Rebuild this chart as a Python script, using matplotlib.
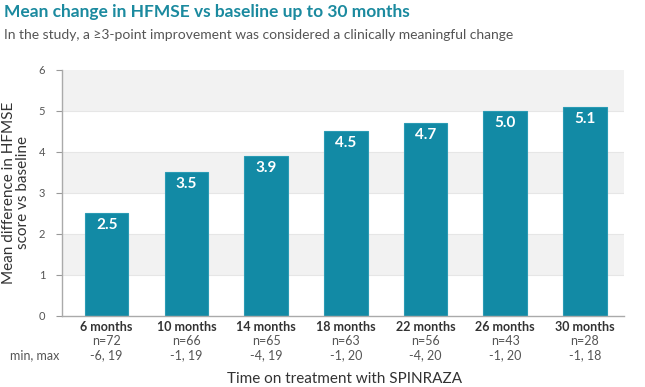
import matplotlib
matplotlib.use("Agg")
import matplotlib.pyplot as plt
import matplotlib.transforms as mtransforms
import numpy as np

months = ["6 months", "10 months", "14 months", "18 months", "22 months", "26 months", "30 months"]
mean_change = [2.5, 3.5, 3.9, 4.5, 4.7, 5.0, 5.1]
value_labels = ["2.5", "3.5", "3.9", "4.5", "4.7", "5.0", "5.1"]
n_patients = [72, 66, 65, 63, 56, 43, 28]
min_max = ["-6, 19", "-1, 19", "-4, 19", "-1, 20", "-4, 20", "-1, 20", "-1, 18"]

plt.rcParams["font.family"] = ["Lato", "DejaVu Sans"]

TEAL = "#128aa5"
TITLE = "#1b8a9f"
GRAY_TXT = "#555555"
DARK = "#333333"

fig = plt.figure(figsize=(6.45, 3.87), dpi=100)
ax = fig.add_axes([62 / 645, 1 - 315.5 / 387, (624 - 62) / 645, (315.5 - 70) / 387])

# alternating background bands
for lo in (1, 3, 5):
    ax.axhspan(lo, lo + 1, color="#f2f2f2", lw=0, zorder=0)
for yv in range(1, 6):
    ax.axhline(yv, color="#e6e6e6", lw=0.8, zorder=0.5)

x = np.arange(len(months))
bars = ax.bar(x, mean_change, width=0.545, color=TEAL, edgecolor="#2a9bb4", lw=0.8, zorder=2)
for xi, v, lab in zip(x, mean_change, value_labels):
    ax.text(xi, v - 0.12, lab, ha="center", va="top", color="white",
            fontsize=11, fontweight="bold", zorder=3)

ax.set_xlim(-0.56, 6.49)
ax.set_ylim(0, 6)
ax.set_yticks(range(0, 7))
ax.tick_params(axis="y", labelsize=8, colors="#999999", labelcolor=GRAY_TXT, length=4, width=0.8, pad=8)
ax.set_xticks([])
for side in ("top", "right"):
    ax.spines[side].set_visible(False)
for side in ("left", "bottom"):
    ax.spines[side].set_color("#aaaaaa")
    ax.spines[side].set_linewidth(1)

ax.set_ylabel("Mean difference in HFMSE\nscore vs baseline", fontsize=11, color=DARK,
              linespacing=1.0, labelpad=6)

trans = mtransforms.blended_transform_factory(ax.transData, fig.transFigure)
for xi, m, n, mm in zip(x, months, n_patients, min_max):
    ax.text(xi, 1 - 327 / 387, m, transform=trans, ha="center", va="center",
            fontsize=9, fontweight="bold", color=DARK)
    ax.text(xi, 1 - 341 / 387, f"n={n}", transform=trans, ha="center", va="center",
            fontsize=9, color=GRAY_TXT)
    ax.text(xi, 1 - 355 / 387, mm, transform=trans, ha="center", va="center",
            fontsize=9, color=GRAY_TXT)
fig.text(35 / 645, 1 - 355 / 387, "min, max", ha="center", va="center", fontsize=9, color=GRAY_TXT)
fig.text(345 / 645, 1 - 379 / 387, "Time on treatment with SPINRAZA", ha="center", va="center",
         fontsize=11, color=DARK)

fig.text(4 / 645, 1 - 12 / 387, "Mean change in HFMSE vs baseline up to 30 months", ha="left",
         va="center", fontsize=12.5, fontweight="bold", color=TITLE)
fig.text(4 / 645, 1 - 35 / 387,
         "In the study, a \u22653-point improvement was considered a clinically meaningful change",
         ha="left", va="center", fontsize=10, color=GRAY_TXT)

fig.savefig("out.png", dpi=100, facecolor="white")
